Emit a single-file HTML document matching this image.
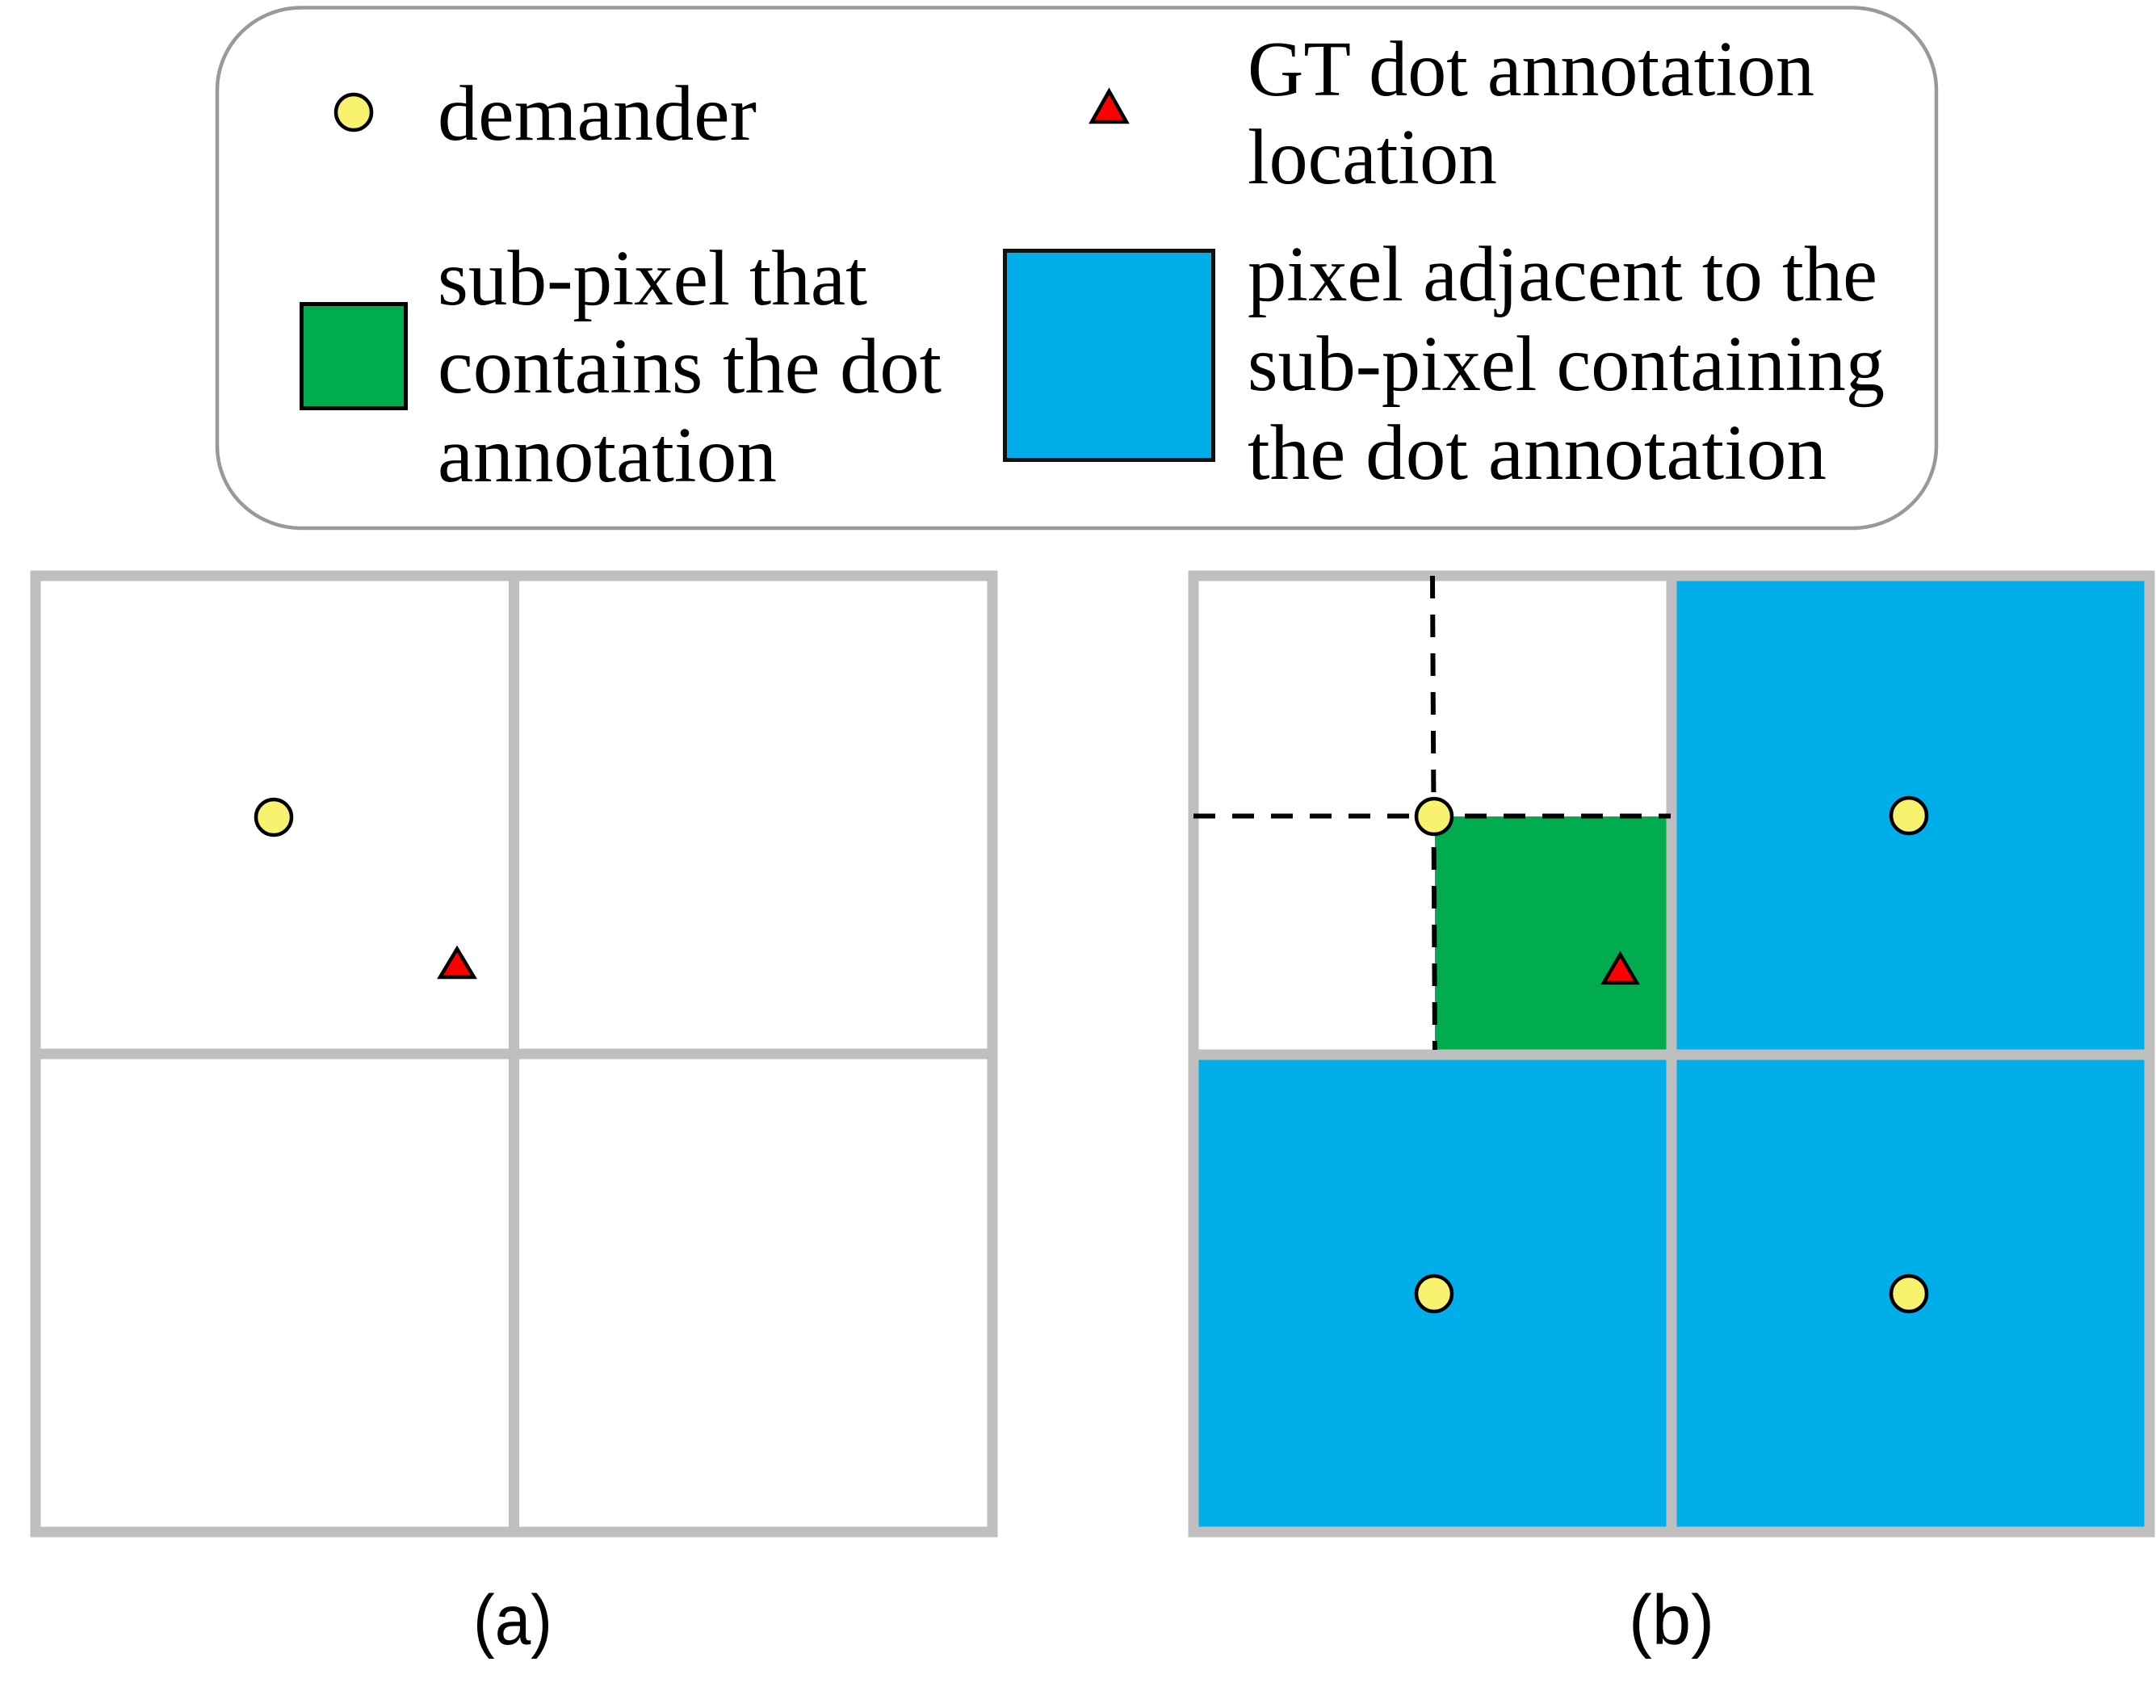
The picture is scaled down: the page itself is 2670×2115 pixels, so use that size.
<!DOCTYPE html>
<html>
<head>
<meta charset="utf-8">
<style>
  html, body { margin: 0; padding: 0; background: #ffffff; }
  body { width: 2670px; height: 2115px; overflow: hidden; }
  svg { display: block; }
  .t { font-family: "Liberation Serif", "DejaVu Serif", serif; font-size: 98px; fill: #000; }
  .l { font-family: "Liberation Sans", "DejaVu Sans", sans-serif; font-size: 87px; fill: #000; }
</style>
</head>
<body>
<svg width="2670" height="2115" viewBox="0 0 2670 2115" xmlns="http://www.w3.org/2000/svg">
  <rect x="0" y="0" width="2670" height="2115" fill="#ffffff"/>

  <!-- Legend box -->
  <rect x="269" y="9.5" width="2129" height="644.5" rx="104" ry="102" fill="#ffffff" stroke="#999999" stroke-width="4.5"/>

  <!-- Legend: demander -->
  <circle cx="438" cy="139" r="22" fill="#F9F26E" stroke="#000" stroke-width="4.5"/>
  <text class="t" x="542" y="173" textLength="395" lengthAdjust="spacingAndGlyphs">demander</text>

  <!-- Legend: GT triangle -->
  <polygon points="1373.5,113 1352,151 1395,151" fill="#FF0000" stroke="#000" stroke-width="4.5" stroke-linejoin="miter"/>
  <text class="t" x="1545" y="118" textLength="702" lengthAdjust="spacingAndGlyphs">GT dot annotation</text>
  <text class="t" x="1545" y="227" textLength="309" lengthAdjust="spacingAndGlyphs">location</text>

  <!-- Legend: green sub-pixel -->
  <rect x="373.5" y="376.5" width="129" height="129" fill="#00AC4E" stroke="#000" stroke-width="5"/>
  <text class="t" x="542" y="377" textLength="532" lengthAdjust="spacingAndGlyphs">sub-pixel that</text>
  <text class="t" x="542" y="486" textLength="624" lengthAdjust="spacingAndGlyphs">contains the dot</text>
  <text class="t" x="542" y="596" textLength="420" lengthAdjust="spacingAndGlyphs">annotation</text>

  <!-- Legend: blue pixel -->
  <rect x="1244.5" y="310.5" width="258" height="259" fill="#00AFEA" stroke="#111" stroke-width="5"/>
  <text class="t" x="1545" y="372" textLength="780" lengthAdjust="spacingAndGlyphs">pixel adjacent to the</text>
  <text class="t" x="1545" y="483" textLength="789" lengthAdjust="spacingAndGlyphs">sub-pixel containing</text>
  <text class="t" x="1545" y="593" textLength="717" lengthAdjust="spacingAndGlyphs">the dot annotation</text>

  <!-- Grid (a) -->
  <rect x="44" y="713" width="1185" height="1184" fill="#ffffff" stroke="#BFBFBF" stroke-width="13"/>
  <line x1="636.5" y1="713" x2="636.5" y2="1897" stroke="#BFBFBF" stroke-width="13"/>
  <line x1="44" y1="1305" x2="1229" y2="1305" stroke="#BFBFBF" stroke-width="13"/>
  <circle cx="339" cy="1012" r="22" fill="#F9F26E" stroke="#000" stroke-width="4.5"/>
  <polygon points="566,1175 545,1210 587,1210" fill="#FF0000" stroke="#000" stroke-width="4.5" stroke-linejoin="miter"/>

  <!-- Grid (b) -->
  <rect x="1478" y="713" width="1184" height="1184" fill="#ffffff"/>
  <rect x="2070" y="713" width="592" height="593" fill="#00AFEA"/>
  <rect x="1478" y="1306" width="592" height="591" fill="#00AFEA"/>
  <rect x="2070" y="1306" width="592" height="591" fill="#00AFEA"/>
  <rect x="1777" y="1011" width="293" height="295" fill="#00AC4E"/>
  <rect x="1478" y="713" width="1184" height="1184" fill="none" stroke="#BFBFBF" stroke-width="13"/>
  <line x1="2070" y1="713" x2="2070" y2="1897" stroke="#BFBFBF" stroke-width="13"/>
  <line x1="1478" y1="1306" x2="2662" y2="1306" stroke="#BFBFBF" stroke-width="13"/>

  <!-- dashed lines -->
  <line x1="1478" y1="1010.5" x2="2069" y2="1010.5" stroke="#000" stroke-width="6" stroke-dasharray="27 21"/>
  <line x1="1774" y1="713" x2="1777" y2="1300" stroke="#000" stroke-width="6" stroke-dasharray="28 20"/>

  <circle cx="1776" cy="1011" r="22" fill="#F9F26E" stroke="#000" stroke-width="4.5"/>
  <circle cx="2364" cy="1010" r="22" fill="#F9F26E" stroke="#000" stroke-width="4.5"/>
  <circle cx="1776" cy="1602" r="22" fill="#F9F26E" stroke="#000" stroke-width="4.5"/>
  <circle cx="2364" cy="1602" r="22" fill="#F9F26E" stroke="#000" stroke-width="4.5"/>
  <polygon points="2006.5,1182 1986,1217 2027,1217" fill="#FF0000" stroke="#000" stroke-width="4.5" stroke-linejoin="miter"/>

  <!-- Captions -->
  <text class="l" x="586" y="2036" textLength="98" lengthAdjust="spacingAndGlyphs">(a)</text>
  <text class="l" x="2017" y="2036" textLength="106" lengthAdjust="spacingAndGlyphs">(b)</text>
</svg>
</body>
</html>
